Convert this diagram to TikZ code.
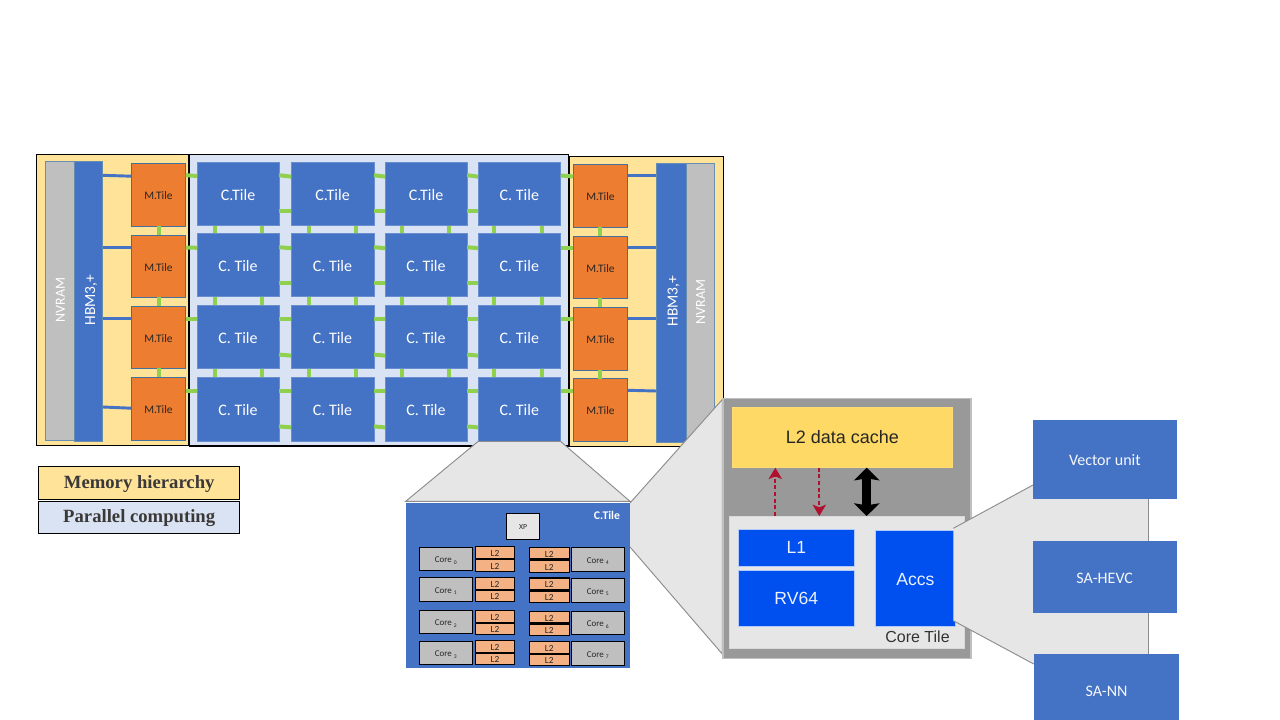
\documentclass[tikz,border=0pt]{standalone}
\usepackage{fontspec}
\setmainfont{Carlito}
\newfontfamily\arialf{Liberation Sans}
\newfontfamily\timesf{Liberation Serif}
\usetikzlibrary{arrows.meta}
\definecolor{cblue}{HTML}{4472C4}
\definecolor{edgeblue}{HTML}{41719C}
\definecolor{morange}{HTML}{ED7D31}
\definecolor{panely}{HTML}{FFE398}
\definecolor{panelb}{HTML}{DAE3F3}
\definecolor{lgray}{HTML}{BFBFBF}
\definecolor{fangray}{HTML}{E6E6E6}
\definecolor{fanline}{HTML}{8C8C8C}
\definecolor{linkg}{HTML}{8FD14F}
\definecolor{ltwo}{HTML}{F4B183}
\definecolor{corebg}{HTML}{999999}
\definecolor{cachey}{HTML}{FFD966}
\definecolor{vivid}{HTML}{0050EF}
\definecolor{darkred}{HTML}{B0112E}
\definecolor{legendt}{HTML}{3B3838}
\tikzset{
  base/.style={inner sep=0pt,outer sep=0pt,rectangle,align=center},
  panelbox/.style={base,draw=black,line width=1.1pt},
  ctile/.style={base,fill=cblue,draw=cblue!80!white,line width=0.4pt,text=white,font=\fontsize{12}{14}\selectfont,text height=9.5pt,text depth=0pt},
  mtile/.style={base,fill=morange,draw=edgeblue,line width=0.8pt,text=black!85,font=\fontsize{8.6}{10}\selectfont,text height=7.2pt,text depth=0pt},
  nvbox/.style={base,fill=lgray,draw=edgeblue!80,line width=0.5pt},
  hbbox/.style={base,fill=cblue,draw=edgeblue!80,line width=0.5pt},
  vtext/.style={text=white,inner sep=0pt,rotate=90},
  legendbox/.style={base,draw=black,line width=0.8pt,text=legendt,font=\timesf\bfseries\fontsize{14}{16}\selectfont,text height=11pt,text depth=3pt},
  detail/.style={base,fill=cblue},
  corebox/.style={base,fill=lgray,draw=black,line width=0.8pt,text=black!85,font=\fontsize{6.7}{8}\selectfont,text height=5.8pt,text depth=0pt},
  ltbox/.style={base,fill=ltwo,draw=black,line width=0.8pt,text=black!85,font=\fontsize{7}{8}\selectfont,text height=5.9pt,text depth=0pt},
  xpbox/.style={base,fill=fangray,draw=black,line width=0.8pt,text=black!85,font=\fontsize{5.8}{7}\selectfont,text height=5pt,text depth=0pt},
  vivbox/.style={base,fill=vivid,draw=white!70!vivid,line width=0.5pt,text=white!92!vivid,font=\arialf\fontsize{13.2}{15}\selectfont},
  acc/.style={base,fill=cblue,text=white!95!cblue,font=\fontsize{12}{14}\selectfont,text height=9.5pt,text depth=0pt},
  glink/.style={draw=linkg,line width=3pt},
  blink/.style={draw=cblue,line width=2.2pt},
  fan/.style={fill=fangray,draw=none},
  fanedge/.style={draw=fanline,line width=0.7pt},
  reddash/.style={draw=darkred,line width=1.5pt,dash pattern=on 3pt off 2pt,-{Stealth[width=10pt,length=8.5pt,inset=2pt]}},
  bigarrow/.style={draw=black,line width=7pt,{Stealth[width=19pt,length=9.5pt,inset=1.5pt]}-{Stealth[width=19pt,length=9.5pt,inset=1.5pt]}}
}
% name, x1, y1, x2, y2, style, text
\newcommand{\bx}[7]{%
  \pgfmathsetmacro{\mycx}{(#2+#4)/2}%
  \pgfmathsetmacro{\mycy}{(#3+#5)/2}%
  \node[#6,minimum width={(#4-#2)*0.75pt},minimum height={(#5-#3)*0.75pt}] (#1) at (\mycx,\mycy) {#7};%
}
\newcommand{\hlink}[4]{\draw[glink] (#1.east |- 0,#3) -- (#2.west |- 0,#4);}
\newcommand{\vlink}[3]{\draw[glink] (#1.south -| #3,0) -- (#2.north -| #3,0);}
\newcommand{\coresub}[1]{Core~\raisebox{-1.2pt}{\fontsize{4.2}{5}\selectfont #1}}
\begin{document}
\begin{tikzpicture}[x=0.75pt,y=-0.75pt]
\useasboundingbox (0,0) rectangle (1280,720);
% panels
\bx{leftp}{36.7}{154.7}{189}{445.3}{panelbox,fill=panely}{}
\bx{midp}{189.3}{154.5}{568.7}{446}{panelbox,fill=panelb}{}
\bx{rightp}{569.3}{156.7}{723.3}{446.7}{panelbox,fill=panely}{}
% memory columns
\bx{nvl}{45.3}{161.7}{74.3}{440.3}{nvbox}{}
\bx{hbl}{74.3}{161}{102.7}{441}{hbbox}{}
\bx{hbr}{656.3}{163.3}{686}{442.7}{hbbox}{}
\bx{nvr}{686}{163.3}{714.7}{442.7}{nvbox}{}
\node[vtext,font=\fontsize{10.5}{12}\selectfont] (nvlt) at (60.5,300) {NVRAM};
\node[vtext,font=\fontsize{11.6}{14}\selectfont] (hblt) at (91,300) {HBM3,+};
\node[vtext,font=\fontsize{11.6}{14}\selectfont] (hbrt) at (673.5,301) {HBM3,+};
\node[vtext,font=\fontsize{10.5}{12}\selectfont] (nvrt) at (700.5,302) {NVRAM};
% memory tiles
\bx{ml1}{131.3}{163.3}{185.7}{226.3}{mtile}{M.Tile}
\bx{ml2}{131.3}{235.3}{185.7}{297.3}{mtile}{M.Tile}
\bx{ml3}{131.3}{306.3}{185.7}{368.3}{mtile}{M.Tile}
\bx{ml4}{131.3}{377.3}{185.7}{440.3}{mtile}{M.Tile}
\bx{mr1}{573.3}{164.3}{627.7}{227.3}{mtile}{M.Tile}
\bx{mr2}{573.3}{236.3}{627.7}{298.3}{mtile}{M.Tile}
\bx{mr3}{573.3}{307.3}{627.7}{370.3}{mtile}{M.Tile}
\bx{mr4}{573.3}{378.7}{627.7}{441.3}{mtile}{M.Tile}
% compute tiles
\bx{c11}{197}{162.3}{279}{225.7}{ctile}{C.Tile}
\bx{c12}{291}{162.3}{374}{225.7}{ctile}{C.Tile}
\bx{c13}{385}{162.3}{467}{225.7}{ctile}{C.Tile}
\bx{c14}{478}{162.3}{560.7}{225.7}{ctile}{C. Tile}
\bx{c21}{197}{233.3}{279}{296.7}{ctile}{C. Tile}
\bx{c22}{291}{233.3}{374}{296.7}{ctile}{C. Tile}
\bx{c23}{385}{233.3}{467}{296.7}{ctile}{C. Tile}
\bx{c24}{478}{233.3}{560.7}{296.7}{ctile}{C. Tile}
\bx{c31}{197}{305.3}{279}{368.7}{ctile}{C. Tile}
\bx{c32}{291}{305.3}{374}{368.7}{ctile}{C. Tile}
\bx{c33}{385}{305.3}{467}{368.7}{ctile}{C. Tile}
\bx{c34}{478}{305.3}{560.7}{368.7}{ctile}{C. Tile}
\bx{c41}{197}{377.3}{279}{441}{ctile}{C. Tile}
\bx{c42}{291}{377.3}{374}{441}{ctile}{C. Tile}
\bx{c43}{385}{377.3}{467}{441}{ctile}{C. Tile}
\bx{c44}{478}{377.3}{560.7}{441}{ctile}{C. Tile}
% blue memory links
\draw[blink] (hbl.east |- 0,175.3) -- (ml1.west |- 0,176.2);
\draw[blink] (hbl.east |- 0,247.3) -- (ml2.west |- 0,247.3);
\draw[blink] (hbl.east |- 0,318.3) -- (ml3.west |- 0,318.3);
\draw[blink] (hbl.east |- 0,407) -- (ml4.west |- 0,408.2);
\draw[blink] (mr1.east |- 0,175.3) -- (hbr.west |- 0,175.3);
\draw[blink] (mr2.east |- 0,247.3) -- (hbr.west |- 0,247.3);
\draw[blink] (mr3.east |- 0,318.3) -- (hbr.west |- 0,318.3);
\draw[blink] (mr4.east |- 0,390.3) -- (hbr.west |- 0,391);
% green links: memory tile to compute tile
\hlink{ml1}{c11}{175.2}{176}
\hlink{ml2}{c21}{247.5}{247.8}
\hlink{ml3}{c31}{319.3}{319.3}
\hlink{ml4}{c41}{391.3}{391.3}
\hlink{c14}{mr1}{175.5}{176.5}
\hlink{c24}{mr2}{247.7}{247.7}
\hlink{c34}{mr3}{319.3}{319.3}
\hlink{c44}{mr4}{391.3}{391.3}
% green links: horizontal
\foreach \a/\b in {1/2,2/3,3/4}{
  \hlink{c1\a}{c1\b}{175.2}{176.6}
  \hlink{c1\a}{c1\b}{211.3}{211.3}
  \hlink{c2\a}{c2\b}{247.2}{248.2}
  \hlink{c2\a}{c2\b}{283.4}{283.4}
  \hlink{c3\a}{c3\b}{319.3}{319.3}
  \hlink{c3\a}{c3\b}{354.6}{355.6}
  \hlink{c4\a}{c4\b}{391.3}{391.3}
  \hlink{c4\a}{c4\b}{426.4}{427.4}
}
% green links: vertical
\foreach \a/\b in {1/2,2/3,3/4}{
  \vlink{c\a1}{c\b1}{214.7}
  \vlink{c\a1}{c\b1}{261.7}
  \vlink{c\a2}{c\b2}{309}
  \vlink{c\a2}{c\b2}{356}
  \vlink{c\a3}{c\b3}{402}
  \vlink{c\a3}{c\b3}{449}
  \vlink{c\a4}{c\b4}{494.3}
  \vlink{c\a4}{c\b4}{541.7}
  \vlink{ml\a}{ml\b}{158.7}
  \vlink{mr\a}{mr\b}{600.3}
}
% legend
\bx{legm}{38.7}{466.7}{239.7}{499.3}{legendbox,fill=panely}{Memory hierarchy}
\bx{legp}{38.7}{501.3}{239.7}{533.3}{legendbox,fill=panelb}{Parallel computing}
% zoom fans
\coordinate (fa1) at (478,441.5);
\coordinate (fa2) at (560.7,441.5);
\coordinate (fa3) at (630,501.3);
\coordinate (fa4) at (405.7,501.3);
\fill[fan] (fa1) -- (fa2) -- (fa3) -- (fa4) -- cycle;
\draw[fanedge] (fa4) -- (fa1) -- (fa2) -- (fa3) -- cycle;
\coordinate (fb1) at (630,503);
\coordinate (fb2) at (722.3,399.5);
\coordinate (fb3) at (722.3,654);
\coordinate (fb4) at (630,547);
\fill[fan] (fb1) -- (fb2) -- (fb3) -- (fb4) -- cycle;
\draw[fanedge] (fb1) -- (fb2) -- (fb3) -- (fb4);
% compute tile detail
\bx{det}{406}{503.3}{630}{667.7}{detail}{}
\node[text=white,inner sep=0pt,font=\bfseries\fontsize{8.8}{10}\selectfont] (dett) at (607,515) {C.Tile};
\bx{xp}{506.7}{513.3}{539.3}{539.3}{xpbox}{XP}
\bx{cr0}{419.3}{547.3}{472.3}{570.3}{corebox}{\coresub{0}}
\bx{cr1}{419.3}{577.3}{472.3}{601.7}{corebox}{\coresub{1}}
\bx{cr2}{419.3}{610.7}{472.3}{633.3}{corebox}{\coresub{2}}
\bx{cr3}{419.3}{641.7}{472.3}{664.3}{corebox}{\coresub{3}}
\bx{cr4}{571.3}{547.3}{624.3}{571.7}{corebox}{\coresub{4}}
\bx{cr5}{571.3}{578.7}{624.3}{602.3}{corebox}{\coresub{5}}
\bx{cr6}{571.3}{611.3}{624.3}{634.3}{corebox}{\coresub{6}}
\bx{cr7}{571.3}{641.7}{624.3}{665.3}{corebox}{\coresub{7}}
\bx{la1}{475.7}{546.3}{514.3}{558.7}{ltbox}{L2}
\bx{la2}{475.7}{559.7}{514.3}{571.7}{ltbox}{L2}
\bx{la3}{475.7}{577.3}{514.3}{589.3}{ltbox}{L2}
\bx{la4}{475.7}{590}{514.3}{601.7}{ltbox}{L2}
\bx{la5}{475.7}{610.3}{514.3}{622.3}{ltbox}{L2}
\bx{la6}{475.7}{623}{514.3}{634.7}{ltbox}{L2}
\bx{la7}{475.7}{640.7}{514.3}{652.3}{ltbox}{L2}
\bx{la8}{475.7}{653}{514.3}{664.7}{ltbox}{L2}
\bx{lb1}{529.3}{547.7}{569.3}{559}{ltbox}{L2}
\bx{lb2}{529.3}{560.7}{569.3}{572.7}{ltbox}{L2}
\bx{lb3}{529.3}{578}{569.3}{589.7}{ltbox}{L2}
\bx{lb4}{529.3}{591}{569.3}{602.7}{ltbox}{L2}
\bx{lb5}{529.3}{611.3}{569.3}{623}{ltbox}{L2}
\bx{lb6}{529.3}{624}{569.3}{635.7}{ltbox}{L2}
\bx{lb7}{529.3}{641.7}{569.3}{653.3}{ltbox}{L2}
\bx{lb8}{529.3}{654.3}{569.3}{665.7}{ltbox}{L2}
% core tile panel
\bx{corep}{723}{398.3}{971}{658.3}{base,fill=corebg,draw=lgray,line width=0.8pt}{}
\bx{cache}{732.3}{407.3}{952.3}{467.7}{base,fill=cachey,draw=cachey!90!white,line width=0.5pt,text=black!85,font=\arialf\fontsize{13.5}{15}\selectfont}{L2 data cache}
\bx{tilep}{729}{516}{964.3}{648.3}{base,fill=fangray,draw=white!85!black,line width=0.5pt}{}
\bx{lone}{738.3}{529}{854.3}{566}{vivbox}{L1}
\bx{rvsf}{738.3}{570}{854.3}{626}{vivbox}{RV64}
\bx{accs}{875.7}{530}{955}{626}{vivbox,text height=11.5pt,text depth=0pt}{Accs}
\node[inner sep=0pt,text=black!80,font=\arialf\fontsize{12}{14}\selectfont] (tilet) at (917.5,637) {Core Tile};
\draw[reddash] (tilep.north -| 775.3,0) -- (cache.south -| 775.3,0);
\draw[reddash] (cache.south -| 819.3,0) -- (tilep.north -| 819.3,0);
\draw[bigarrow] (cache.south -| 866.7,0) -- (tilep.north -| 866.7,0);
% accelerator fan
\coordinate (fc1) at (953.3,528.3);
\coordinate (fc2) at (1033,485);
\coordinate (fc3) at (1148.3,485);
\coordinate (fc4) at (1148.3,664);
\coordinate (fc5) at (1033.7,664);
\coordinate (fc6) at (953.3,620.7);
\fill[fan] (fc1) -- (fc2) -- (fc3) -- (fc4) -- (fc5) -- (fc6) -- cycle;
\draw[fanedge] (fc1) -- (fc2);
\draw[fanedge] (fc6) -- (fc5);
\draw[fanedge] (fc3) -- (fc4);
\bx{vec}{1032.7}{420}{1177}{499}{acc}{Vector unit}
\bx{hevc}{1032.7}{541}{1176.7}{612.7}{acc}{SA-HEVC}
\bx{sann}{1034}{654}{1179}{720}{acc,text height=13.5pt,text depth=0pt}{SA-NN}
\end{tikzpicture}
\end{document}
